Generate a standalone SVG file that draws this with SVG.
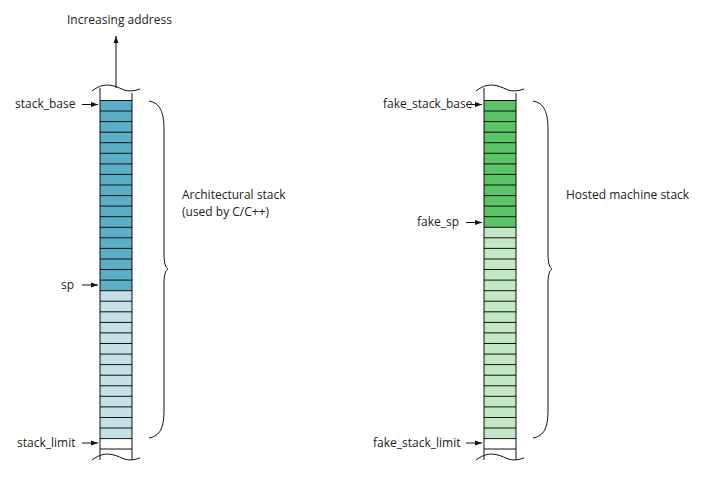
<svg xmlns="http://www.w3.org/2000/svg" width="705" height="485" viewBox="0 0 705 485">
<style>
text{font-family:"Open Sans","Liberation Sans",sans-serif;font-size:12px;fill:#222}
.c{stroke:#111;stroke-width:1.3}
.db{fill:#5aafc6}.lb{fill:#c4e0e6}.dg{fill:#5ac466}.lg{fill:#c3e6c6}
.w{fill:#fff}
.ln{stroke:#111;stroke-width:1;fill:none}
</style>
<defs>
<marker id="a" viewBox="0 0 10 10" refX="10" refY="5" markerWidth="7" markerHeight="7" orient="auto"><path d="M0,1.5 L10,5 L0,8.5z" fill="#111"/></marker>
<pattern id="pb" width="32" height="10.5625" patternUnits="userSpaceOnUse" y="100"><rect width="32" height="10.5625" fill="#5aafc6"/><line x1="0" y1="0.5" x2="32" y2="0.5" stroke="#111" stroke-width="1.3"/></pattern>
</defs>
<g id="left-stack">
<rect x="100" y="88" width="32" height="374" class="w"/>
<g id="lcells"></g>
</g>
<g id="connectors">
<line x1="116" y1="88" x2="116" y2="36" class="ln" marker-end="url(#a)"/>
<line x1="82" y1="104.5" x2="98" y2="104.5" class="ln" marker-end="url(#a)"/>
<line x1="82" y1="285" x2="98" y2="285" class="ln" marker-end="url(#a)"/>
<line x1="82" y1="443" x2="98" y2="443" class="ln" marker-end="url(#a)"/>
<line x1="466" y1="104.5" x2="482" y2="104.5" class="ln" marker-end="url(#a)"/>
<line x1="466" y1="222.5" x2="482" y2="222.5" class="ln" marker-end="url(#a)"/>
<line x1="466" y1="443" x2="482" y2="443" class="ln" marker-end="url(#a)"/>
</g>
<g id="stackL">
<rect x="100" y="100" width="32" height="190" class="db"/>
<rect x="100" y="290" width="32" height="148" class="lb"/>
<path class="ln" d="M100,100.5h32M100,111h32M100,121.6h32M100,132.2h32M100,142.7h32M100,153.3h32M100,163.9h32M100,174.4h32M100,185h32M100,195.6h32M100,206.1h32M100,216.7h32M100,227.3h32M100,237.8h32M100,248.4h32M100,259h32M100,269.5h32M100,280.1h32M100,290.7h32M100,301.2h32M100,311.8h32M100,322.4h32M100,332.9h32M100,343.5h32M100,354.1h32M100,364.6h32M100,375.2h32M100,385.8h32M100,396.3h32M100,406.9h32M100,417.5h32M100,428h32M100,438.6h32M100,449h32"/>
<path class="ln" d="M100,88V460M132,93V460"/>
<path class="ln" d="M92,91 C100,85 106,84 114,86 S126,94 140,89"/>
<path class="ln" d="M92,460 C100,454 106,453 114,455 S126,463 140,458"/>
</g>
<g id="stackR">
<rect x="484" y="100" width="32" height="127" class="dg"/>
<rect x="484" y="227" width="32" height="211" class="lg"/>
<path class="ln" transform="translate(384,0)" d="M100,100.5h32M100,111h32M100,121.6h32M100,132.2h32M100,142.7h32M100,153.3h32M100,163.9h32M100,174.4h32M100,185h32M100,195.6h32M100,206.1h32M100,216.7h32M100,227.3h32M100,237.8h32M100,248.4h32M100,259h32M100,269.5h32M100,280.1h32M100,290.7h32M100,301.2h32M100,311.8h32M100,322.4h32M100,332.9h32M100,343.5h32M100,354.1h32M100,364.6h32M100,375.2h32M100,385.8h32M100,396.3h32M100,406.9h32M100,417.5h32M100,428h32M100,438.6h32M100,449h32"/>
<path class="ln" transform="translate(384,0)" d="M100,88V460M132,93V460"/>
<path class="ln" transform="translate(384,0)" d="M92,91 C100,85 106,84 114,86 S126,94 140,89"/>
<path class="ln" transform="translate(384,0)" d="M92,460 C100,454 106,453 114,455 S126,463 140,458"/>
</g>
<g id="braceL"><path class="ln" d="M149,101 C160,103 164,112 164,130 V255 C164,264 166,268 168,269 C166,270 164,274 164,283 V410 C164,428 160,436 149,438"/></g>
<g id="braceR"><path class="ln" d="M533,101 C544,103 548,112 548,130 V255 C548,264 550,268 552,269 C550,270 548,274 548,283 V410 C548,428 544,436 533,438"/></g>
<g id="labels">
<text x="67" y="24">Increasing address</text>
<text x="15" y="108">stack_base</text>
<text x="61" y="289">sp</text>
<text x="17" y="447">stack_limit</text>
<text x="182" y="199">Architectural stack</text>
<text x="182" y="216">(used by C/C++)</text>
<text x="383" y="108">fake_stack_base</text>
<text x="417" y="226">fake_sp</text>
<text x="373" y="447">fake_stack_limit</text>
<text x="566" y="199">Hosted machine stack</text>
</g>
</svg>
